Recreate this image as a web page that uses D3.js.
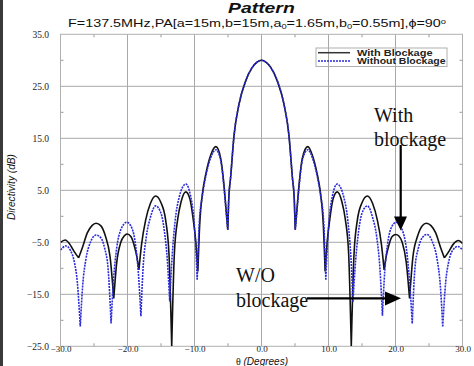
<!DOCTYPE html>
<html><head><meta charset="utf-8">
<script src="https://cdn.jsdelivr.net/npm/d3@7"></script>
<style>html,body{margin:0;padding:0;background:#fff;}svg{display:block;}</style>
</head><body>
<script>
// ---- data (angle in degrees, directivity in dB) ----
const xTicks = [-30, -20, -10, 0, 10, 20, 30];
const yTicks = [35, 25, 15, 5, -5, -15, -25];
const xMinor = [-25, -15, -5, 5, 15, 25];
const yMinor = [30, 20, 10, 0, -10, -20];
const seriesNames = ["With Blockage", "Without Blockage"];

const withBlockage = [
  [-30.0,-5.0],[-29.3,-4.55],[-28.6,-5.4],[-27.9,-6.9],[-27.3,-8.0],
  [-26.7,-5.9],[-26.0,-3.2],[-25.3,-1.8],[-24.7,-1.35],[-24.0,-1.8],[-23.3,-3.8],[-22.6,-7.8],[-22.05,-15.8],
  [-21.6,-8.8],[-21.0,-5.0],[-20.5,-3.8],[-20.05,-3.4],[-19.5,-3.9],[-19.0,-5.6],[-18.6,-7.8],[-18.3,-10.3],
  [-17.9,-5.4],[-17.3,-0.8],[-16.6,2.4],[-15.8,3.9],[-15.0,2.6],[-14.3,-0.8],[-13.8,-7.5],[-13.4,-25.0],
  [-13.0,-7.0],[-12.5,-0.5],[-12.0,2.8],[-11.3,4.7],[-10.7,3.4],[-10.2,-0.5],[-9.8,-5.0],[-9.5,-10.6],
  [-9.2,-1.0],[-8.8,4.5],[-8.3,8.2],[-7.6,11.7],[-6.8,13.4],[-6.1,11.2],[-5.6,6.0],[-5.3,1.5],[-5.03,-2.6],
  [-4.9,3.0],[-4.6,7.6],[-4.1,15.5],[-3.35,21.6],[-2.4,25.9],[-1.4,28.6],[-0.7,29.6],[0.0,30.0],
  [0.7,29.6],[1.4,28.6],[2.4,25.9],[3.35,21.6],[4.1,15.5],[4.6,7.6],[4.9,3.0],
  [5.03,-2.6],[5.3,1.5],[5.6,6.0],[6.1,11.2],[6.9,13.4],[7.6,11.7],[8.3,8.2],[8.8,4.5],[9.2,-1.0],
  [9.5,-10.6],[9.8,-5.0],[10.2,-0.5],[10.7,3.4],[11.3,4.7],[12.0,2.8],[12.5,-0.5],[13.0,-7.0],
  [13.4,-25.0],[13.8,-7.5],[14.3,-0.8],[15.0,2.6],[15.8,3.9],[16.6,2.4],[17.3,-0.8],[17.9,-5.4],
  [18.3,-10.3],[18.6,-7.8],[19.0,-5.6],[19.5,-3.9],[20.05,-3.5],[20.5,-3.8],[21.0,-5.0],[21.6,-8.8],
  [22.1,-15.8],[22.6,-7.8],[23.3,-3.8],[24.0,-1.8],[24.6,-1.35],[25.3,-1.8],[26.0,-3.2],[26.7,-5.9],
  [27.3,-8.0],[27.9,-6.9],[28.6,-5.4],[29.4,-4.65],[30.0,-5.2]
];

const withoutBlockage = [
  [-30.0,-6.5],[-29.2,-5.7],[-28.5,-6.6],[-27.9,-9.0],[-27.5,-12.5],[-27.05,-21.2],
  [-26.7,-13.5],[-26.2,-8.2],[-25.5,-4.9],[-24.7,-3.6],[-24.0,-4.1],[-23.4,-6.2],[-22.9,-10.0],[-22.45,-20.6],
  [-22.1,-12.5],[-21.6,-6.0],[-21.0,-2.6],[-20.1,-1.15],[-19.3,-2.4],[-18.8,-5.5],[-18.4,-10.5],[-18.0,-19.2],
  [-17.7,-10.5],[-17.2,-4.0],[-16.6,-0.3],[-15.8,2.0],[-15.0,0.6],[-14.5,-2.8],[-14.05,-8.5],[-13.7,-16.4],
  [-13.35,-8.0],[-12.9,-1.0],[-12.3,3.6],[-11.3,6.2],[-10.6,4.0],[-10.1,-0.5],[-9.85,-5.0],[-9.6,-12.2],
  [-9.3,-1.5],[-8.8,4.2],[-8.3,7.8],[-7.6,11.2],[-6.8,12.8],[-6.1,10.8],[-5.6,5.6],[-5.3,1.2],[-5.03,-2.6],
  [-4.9,3.0],[-4.6,7.6],[-4.1,15.5],[-3.35,21.6],[-2.4,25.9],[-1.4,28.6],[-0.7,29.6],[0.0,30.0],
  [0.7,29.6],[1.4,28.6],[2.4,25.9],[3.35,21.6],[4.1,15.5],[4.6,7.6],[4.9,3.0],
  [5.03,-2.6],[5.3,1.2],[5.6,5.6],[6.1,10.8],[6.9,12.8],[7.6,11.2],[8.3,7.8],[8.8,4.2],[9.3,-1.5],
  [9.6,-12.2],[9.85,-5.0],[10.1,-0.5],[10.6,4.0],[11.3,6.2],[12.3,3.6],[12.9,-1.0],[13.35,-8.0],
  [13.65,-16.4],[14.05,-8.5],[14.5,-2.8],[15.0,0.6],[15.8,2.0],[16.6,-0.3],[17.2,-4.0],[17.7,-10.5],
  [18.05,-19.1],[18.4,-10.5],[18.8,-5.5],[19.3,-2.4],[20.1,-1.15],[21.0,-2.6],[21.6,-6.0],[22.1,-12.5],
  [22.5,-20.6],[22.9,-10.0],[23.4,-6.2],[24.0,-4.1],[24.7,-3.5],[25.5,-4.9],[26.2,-8.2],[26.7,-13.5],
  [27.05,-21.2],[27.5,-12.5],[27.9,-9.0],[28.5,-6.6],[29.3,-5.8],[30.0,-6.5]
];

// ---- layout ----
const W = 474, H = 366;
const svg = d3.select("body").append("svg").attr("width", W).attr("height", H)
  .style("font-family", "'Liberation Sans', Arial, sans-serif");
svg.append("rect").attr("width", W).attr("height", H).attr("fill", "#fff");
svg.append("rect").attr("x", 0).attr("y", 0).attr("width", 3).attr("height", H).attr("fill", "#3a3a3a");

const x = d3.scaleLinear().domain([-30, 30]).range([60.5, 462.5]);
const y = d3.scaleLinear().domain([-25, 35]).range([346.3, 34.3]);

function stretch(sel, anchorX, anchorY, target) {
  const w = sel.node().getBBox().width;
  const k = target / w;
  sel.attr("transform", `translate(${anchorX},${anchorY}) scale(${k},1) translate(${-anchorX},${-anchorY})`);
}

// grid
const grid = svg.append("g");
grid.selectAll("line.gx").data(xTicks.slice(1, -1)).join("line")
  .attr("x1", d => x(d)).attr("x2", d => x(d)).attr("y1", y(35)).attr("y2", y(-25))
  .attr("stroke", "#a8a8a8").attr("stroke-width", 1);
grid.selectAll("line.gy").data(yTicks.slice(1, -1)).join("line")
  .attr("y1", d => y(d)).attr("y2", d => y(d)).attr("x1", x(-30)).attr("x2", x(30))
  .attr("stroke", "#a8a8a8").attr("stroke-width", 1);

// minor ticks on the frame
const mt = svg.append("g").attr("stroke", "#999").attr("stroke-width", 1);
xMinor.forEach(d => {
  mt.append("line").attr("x1", x(d)).attr("x2", x(d)).attr("y1", y(-25)).attr("y2", y(-25) - 3);
  mt.append("line").attr("x1", x(d)).attr("x2", x(d)).attr("y1", y(35)).attr("y2", y(35) + 3);
});
yMinor.forEach(d => {
  mt.append("line").attr("y1", y(d)).attr("y2", y(d)).attr("x1", x(-30)).attr("x2", x(-30) + 3);
  mt.append("line").attr("y1", y(d)).attr("y2", y(d)).attr("x1", x(30)).attr("x2", x(30) - 3);
});

// frame
svg.append("rect").attr("x", x(-30)).attr("y", y(35)).attr("width", x(30) - x(-30)).attr("height", y(-25) - y(35))
  .attr("fill", "none").attr("stroke", "#b0b0b0").attr("stroke-width", 1);

// axes (labels only, via d3 axis generators)
const xAxis = d3.axisBottom(x).tickValues(xTicks).tickFormat(d3.format(".1f")).tickSize(0).tickPadding(0);
const gx = svg.append("g").attr("transform", `translate(0,${y(-25)})`).call(xAxis);
gx.select(".domain").remove();
gx.selectAll("text").attr("font-family", "'Liberation Serif', 'Times New Roman', serif")
  .attr("font-size", 9).attr("fill", "#222").attr("dy", "0.6em");

const yAxis = d3.axisLeft(y).tickValues(yTicks).tickFormat(d3.format(".1f")).tickSize(0).tickPadding(0);
const gy = svg.append("g").attr("transform", `translate(${49},0)`).call(yAxis);
gy.select(".domain").remove();
gy.selectAll("text").attr("font-family", "'Liberation Serif', 'Times New Roman', serif")
  .attr("font-size", 9.5).attr("fill", "#222").attr("x", 0);

// curves: split at local minima (nulls) so nulls stay sharp
function segments(data) {
  const segs = []; let cur = [data[0]];
  for (let i = 1; i < data.length; i++) {
    cur.push(data[i]);
    if (i < data.length - 1 && data[i][1] < data[i - 1][1] && data[i][1] < data[i + 1][1]) {
      segs.push(cur); cur = [data[i]];
    }
  }
  segs.push(cur);
  return segs;
}
const lineGen = d3.line().x(d => x(d[0])).y(d => y(d[1])).curve(d3.curveMonotoneX);
function pathFor(data) { return segments(data).map(s => lineGen(s)).join(""); }

svg.append("clipPath").attr("id", "clip").append("rect")
  .attr("x", x(-30)).attr("y", y(35)).attr("width", x(30) - x(-30)).attr("height", y(-25) - y(35));
const plot = svg.append("g").attr("clip-path", "url(#clip)");
plot.append("path").attr("d", pathFor(withBlockage)).attr("fill", "none")
  .attr("stroke", "#111").attr("stroke-width", 1.6).attr("stroke-linejoin", "round");
plot.append("path").attr("d", pathFor(withoutBlockage)).attr("fill", "none")
  .attr("stroke", "#2a2ad8").attr("stroke-width", 1.6).attr("stroke-dasharray", "2,1");

// legend
const lg = svg.append("g");
lg.append("rect").attr("x", 316).attr("y", 48).attr("width", 131).attr("height", 18.5)
  .attr("fill", "none").attr("stroke", "#b0b0b0").attr("stroke-width", 1);
lg.append("line").attr("x1", 318).attr("x2", 350).attr("y1", 52.7).attr("y2", 52.7)
  .attr("stroke", "#333").attr("stroke-width", 1.5);
lg.append("line").attr("x1", 318).attr("x2", 350).attr("y1", 61).attr("y2", 61)
  .attr("stroke", "#2a2ad8").attr("stroke-width", 1.5).attr("stroke-dasharray", "2,1");
const lt1 = lg.append("text").attr("x", 357).attr("y", 56).attr("font-size", 8.5).attr("font-weight", "bold")
  .attr("fill", "#222").text(seriesNames[0]);
const lt2 = lg.append("text").attr("x", 357).attr("y", 64.5).attr("font-size", 8.5).attr("font-weight", "bold")
  .attr("fill", "#222").text(seriesNames[1]);
stretch(lt1, 357, 56, 76);
stretch(lt2, 357, 64.5, 89);

// titles
const t1 = svg.append("text").attr("x", 228).attr("y", 12.5).attr("font-size", 14.5)
  .attr("font-weight", "bold").attr("font-style", "italic").attr("fill", "#111").text("Pattern");
stretch(t1, 228, 12.5, 67);

const st = svg.append("text").attr("x", 68).attr("y", 27).attr("font-size", 10).attr("fill", "#111");
st.append("tspan").text("F=137.5MHz,PA[a=15m,b=15m,a");
st.append("tspan").attr("dy", 2).attr("font-size", 6.5).text("0");
st.append("tspan").attr("dy", -2).text("=1.65m,b");
st.append("tspan").attr("dy", 2).attr("font-size", 6.5).text("0");
st.append("tspan").attr("dy", -2).text("=0.55m],\u03d5=90");
st.append("tspan").attr("dy", -3).attr("font-size", 6.5).text("o");
stretch(st, 68, 27, 379);

// axis titles
const xt = svg.append("text").attr("x", 262).attr("y", 364.5).attr("text-anchor", "middle")
  .attr("font-size", 10).attr("font-style", "italic").attr("fill", "#111");
xt.append("tspan").attr("font-family", "'Liberation Serif', serif").attr("font-style", "normal").text("\u03b8");
xt.append("tspan").text(" (Degrees)");

svg.append("text").attr("transform", "translate(15,187) rotate(-90)").attr("text-anchor", "middle")
  .attr("font-size", 10).attr("font-style", "italic").attr("fill", "#111")
  .attr("textLength", 66).attr("lengthAdjust", "spacingAndGlyphs").text("Directivity (dB)");

// annotations
const ann = svg.append("g").attr("font-family", "'Liberation Serif', 'Times New Roman', serif")
  .attr("font-size", 20).attr("fill", "#111");
ann.append("text").attr("x", 374).attr("y", 122).text("With");
ann.append("text").attr("x", 374).attr("y", 146).text("blockage");
ann.append("text").attr("x", 236).attr("y", 281.5).text("W/O");
ann.append("text").attr("x", 236).attr("y", 306.5).text("blockage");

svg.append("line").attr("x1", 400.7).attr("x2", 400.7).attr("y1", 145).attr("y2", 218)
  .attr("stroke", "#000").attr("stroke-width", 2.2);
svg.append("path").attr("d", "M394,216.5 L407,216.5 L400.7,230.5 Z").attr("fill", "#000");
svg.append("line").attr("x1", 307).attr("x2", 386).attr("y1", 298.3).attr("y2", 298.3)
  .attr("stroke", "#000").attr("stroke-width", 2.2);
svg.append("path").attr("d", "M385,291.5 L385,305.5 L401,298.3 Z").attr("fill", "#000");
</script>
</body></html>
